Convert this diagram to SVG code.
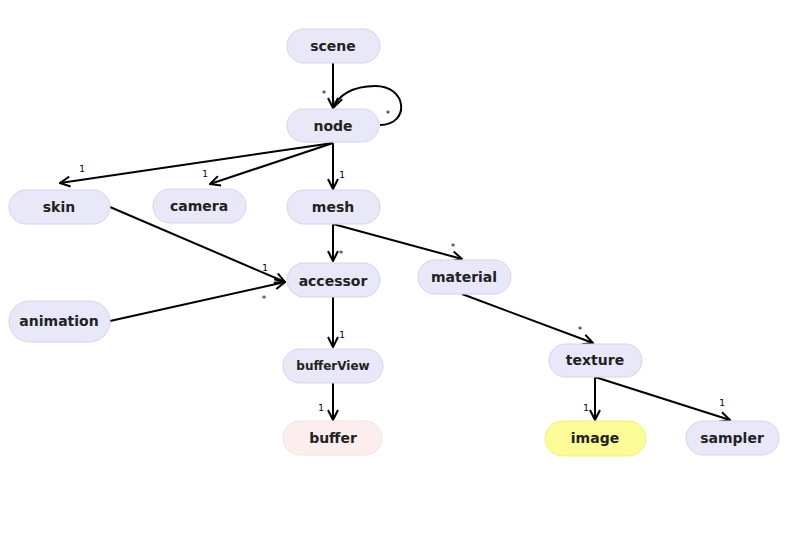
<svg xmlns="http://www.w3.org/2000/svg" width="800" height="534" viewBox="0 0 800 534">
<defs>
<marker id="ar" viewBox="0 0 12 12" refX="11" refY="6" markerWidth="12" markerHeight="12" markerUnits="userSpaceOnUse" orient="auto"><path d="M1,1 L11,6 L1,11" fill="none" stroke="#000" stroke-width="2"/></marker>
</defs>
<style>
.n rect{fill:#e8e8f8;stroke:#d4d4e8;stroke-width:1}
.n text{font-family:"DejaVu Sans",Verdana,sans-serif;font-weight:bold;font-size:14px;fill:#222;text-anchor:middle;dominant-baseline:central}
.e path{fill:none;stroke:#000;stroke-width:2;marker-end:url(#ar)}
.l{font-family:"DejaVu Sans",sans-serif;font-size:9px;fill:#000;text-anchor:middle}
</style>
<rect width="800" height="534" fill="#fff"/>
<g class="e">
<path d="M333,63 L333,108"/>
<path d="M380,125 C410,125 408,86 375,86 C352,86 338,96 334,107"/>
<path d="M333,143 L60,183"/>
<path d="M333,143 L210,184"/>
<path d="M333,143 L333,189"/>
<path d="M110,207 L285,282"/>
<path d="M110,321 L285,282"/>
<path d="M333,224 L333,261"/>
<path d="M333,224 L462,259"/>
<path d="M333,296 L333,347"/>
<path d="M333,383 L333,420"/>
<path d="M462,294 L593,343"/>
<path d="M595,377 L595,420"/>
<path d="M595,377 L730,420"/>
</g>
<g>
<text class="l" x="324" y="97">*</text><text class="l" x="388" y="117">*</text>
<text class="l" x="82" y="172">1</text><text class="l" x="205" y="177">1</text>
<text class="l" x="342" y="178">1</text><text class="l" x="341" y="257">*</text>
<text class="l" x="265" y="271">1</text><text class="l" x="264" y="302">*</text>
<text class="l" x="453" y="250">*</text><text class="l" x="342" y="338">1</text>
<text class="l" x="321" y="411">1</text><text class="l" x="580" y="333">*</text>
<text class="l" x="586" y="411">1</text><text class="l" x="722" y="406">1</text>
</g>
<g class="n" id="scene"><rect x="287" y="29" width="93" height="34" rx="17"/><text x="333" y="46">scene</text></g>
<g class="n" id="node"><rect x="287" y="109" width="92" height="33" rx="16.5"/><text x="333" y="126">node</text></g>
<g class="n" id="skin"><rect x="9" y="190" width="101" height="34" rx="17"/><text x="59" y="207">skin</text></g>
<g class="n" id="camera"><rect x="153" y="189" width="93" height="34" rx="17"/><text x="199" y="206">camera</text></g>
<g class="n" id="mesh"><rect x="287" y="190" width="93" height="34" rx="17"/><text x="333" y="207">mesh</text></g>
<g class="n" id="accessor"><rect x="287" y="263" width="93" height="34" rx="17"/><text x="333" y="281">accessor</text></g>
<g class="n" id="material"><rect x="418" y="260" width="93" height="34" rx="17"/><text x="464" y="277">material</text></g>
<g class="n" id="animation"><rect x="9" y="301" width="101" height="41" rx="20.5"/><text x="59" y="321">animation</text></g>
<g class="n" id="bufferView"><rect x="283" y="349" width="100" height="34" rx="17"/><text x="333" y="366" style="font-size:12px">bufferView</text></g>
<g class="n" id="buffer"><rect x="283" y="421" width="99" height="34" rx="17" style="fill:#fdeeee;stroke:#f4e0e0"/><text x="333" y="438">buffer</text></g>
<g class="n" id="texture"><rect x="549" y="344" width="93" height="33" rx="16.5"/><text x="595" y="360">texture</text></g>
<g class="n" id="image"><rect x="545" y="421" width="101" height="35" rx="17.5" style="fill:#fbfb98;stroke:#f0f080"/><text x="595" y="438">image</text></g>
<g class="n" id="sampler"><rect x="686" y="421" width="93" height="34" rx="17"/><text x="732" y="438">sampler</text></g>
</svg>
